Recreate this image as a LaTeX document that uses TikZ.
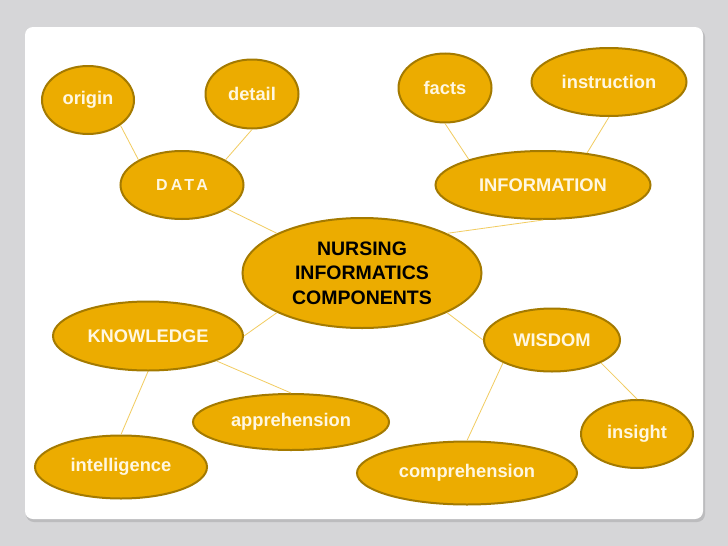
\documentclass[tikz,border=0pt]{standalone}
\usepackage{fontspec}
\setmainfont{Liberation Sans}
\newfontfamily\spacedfont[LetterSpace=20]{Liberation Sans Bold}
\usetikzlibrary{shapes.geometric}
\definecolor{gold}{RGB}{236,172,0}
\definecolor{golddark}{RGB}{164,122,0}
\definecolor{goldline}{RGB}{242,204,96}
\definecolor{cream}{RGB}{255,247,225}
\definecolor{slide}{RGB}{214,214,216}
\definecolor{slideshadow}{RGB}{188,188,190}

\begin{document}
\begin{tikzpicture}[x=1pt,y=-1pt,
 bubble/.style={ellipse,draw=golddark,line width=2pt,fill=gold,inner sep=0pt,
   text=cream,font=\bfseries\fontsize{18.3}{22}\selectfont},
 link/.style={goldline,line width=0.8pt}]
 % fondo de la diapositiva
 \fill[slide] (0,0) rectangle (728,546);
 \fill[slideshadow,rounded corners=8pt] (26,29) rectangle (705,522);
 \fill[white,rounded corners=8pt] (25,27) rectangle (703,519);
 % nodo central
 \node[bubble,text=black,align=center,font=\bfseries\fontsize{19.5}{24.5}\selectfont,
   minimum width=239pt,minimum height=110pt] (core) at (362,273) {NURSING\\INFORMATICS\\COMPONENTS};
 % ramas
 \node[bubble,minimum width=123pt,minimum height=68pt,font=\spacedfont\fontsize{16}{20}\selectfont] (data) at (182,185) {DATA};
 \node[bubble,minimum width=215pt,minimum height=68pt] (info) at (543,185) {INFORMATION};
 \node[bubble,minimum width=190pt,minimum height=69pt] (knowledge) at (148,336) {KNOWLEDGE};
 \node[bubble,minimum width=136pt,minimum height=63pt] (wisdom) at (552,340) {WISDOM};
 % hojas
 \node[bubble,minimum width=92pt,minimum height=68pt] (origin) at (88,100) {origin};
 \node[bubble,minimum width=93pt,minimum height=69pt] (detail) at (252,94) {detail};
 \node[bubble,minimum width=93pt,minimum height=69pt] (facts) at (445,88) {facts};
 \node[bubble,minimum width=155pt,minimum height=68pt] (instruction) at (609,82) {instruction};
 \node[bubble,minimum width=196pt,minimum height=56pt] (apprehension) at (291,422) {apprehension};
 \node[bubble,minimum width=172pt,minimum height=63pt] (intelligence) at (121,467) {intelligence};
 \node[bubble,minimum width=220pt,minimum height=63pt] (comprehension) at (467,473) {comprehension};
 \node[bubble,minimum width=112pt,minimum height=68pt] (insight) at (637,434) {insight};
 % conexiones
 \draw[link] (origin.-38) -- (data.150);
 \draw[link] (detail.-90) -- (data.30);
 \draw[link] (data.-28) -- (core.155);
 \draw[link] (facts.-90) -- (info.161);
 \draw[link] (instruction.-90) -- (info.36);
 \draw[link] (info.-90) -- (core.25);
 \draw[link] (knowledge.0) -- (core.205);
 \draw[link] (knowledge.-20) -- (apprehension.90);
 \draw[link] (knowledge.-90) -- (intelligence.90);
 \draw[link] (core.-25) -- (wisdom.180);
 \draw[link] (wisdom.205) -- (comprehension.90);
 \draw[link] (wisdom.-25) -- (insight.90);
\end{tikzpicture}
\end{document}
